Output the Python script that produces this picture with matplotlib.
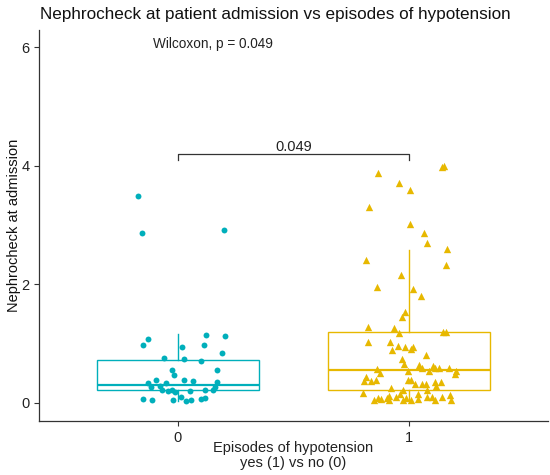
import matplotlib
matplotlib.use("Agg")
import matplotlib.pyplot as plt
import numpy as np

plt.rcParams['font.family'] = ['Liberation Sans', 'DejaVu Sans']

categories = ["0", "1"]
colors = ["#00AFBB", "#E7B800"]

# Group 0 jittered points (x offset from category, value)
g0_jit = [-0.173, -0.154, 0.199, -0.130, 0.121, 0.202, -0.150, 0.113, 0.019, 0.190,
          -0.059, 0.027, 0.101, -0.023, 0.169, -0.017, -0.095, 0.027, 0.065, -0.130,
          -0.052, 0.170, -0.116, -0.077, -0.069, -0.043, -0.026, -0.012, 0.052, 0.118,
          0.150, 0.159, -0.150, -0.110, -0.019, 0.013, 0.035, 0.058, 0.101, 0.118]
g0_val = [3.48, 2.86, 2.92, 1.08, 1.15, 1.13, 0.97, 0.97, 0.94, 0.84,
          0.76, 0.73, 0.70, 0.55, 0.55, 0.46, 0.38, 0.39, 0.36, 0.33,
          0.33, 0.35, 0.26, 0.28, 0.22, 0.19, 0.21, 0.18, 0.20, 0.21,
          0.21, 0.27, 0.06, 0.04, 0.04, 0.09, 0.03, 0.05, 0.06, 0.07]

g1_jit = [0.140, 0.150, -0.134, -0.043, 0.003, -0.175, 0.003, 0.063, 0.076, 0.162,
          -0.186, 0.159, -0.035, -0.140, 0.016, 0.050, -0.020, -0.029, -0.177, -0.065,
          -0.045, 0.147, 0.157, -0.177, -0.084, -0.049, -0.017, 0.007, 0.017, -0.075,
          0.072, -0.030, -0.023, 0.042, 0.055, 0.103, 0.110, 0.128, 0.172, -0.137,
          -0.004, 0.084, 0.202, 0.196, -0.186, -0.126, -0.195, -0.165, -0.142, -0.007,
          0.009, 0.027, 0.056, 0.072, 0.110, 0.136, 0.117, 0.075, -0.077, -0.025,
          -0.199, -0.038, -0.088, 0.038, 0.177, 0.140, -0.153, -0.134, -0.120, -0.098,
          -0.088, -0.055, -0.026, -0.013, 0.009, 0.039, 0.079, 0.100, 0.111, 0.181]
g1_val = [3.98, 3.99, 3.88, 3.71, 3.59, 3.31, 3.02, 2.86, 2.69, 2.59,
          2.40, 2.32, 2.15, 1.95, 1.92, 1.80, 1.53, 1.44, 1.28, 1.26,
          1.18, 1.20, 1.20, 1.02, 1.02, 0.96, 0.94, 0.91, 0.94, 0.88,
          0.80, 0.73, 0.65, 0.63, 0.58, 0.62, 0.59, 0.59, 0.59, 0.57,
          0.53, 0.53, 0.53, 0.49, 0.44, 0.50, 0.36, 0.36, 0.39, 0.38,
          0.39, 0.32, 0.31, 0.32, 0.35, 0.35, 0.28, 0.22, 0.24, 0.22,
          0.17, 0.14, 0.12, 0.14, 0.13, 0.10, 0.05, 0.07, 0.06, 0.07,
          0.05, 0.10, 0.05, 0.07, 0.05, 0.06, 0.09, 0.10, 0.05, 0.05]

# Box statistics
box_q1 = [0.21, 0.22]
box_med = [0.30, 0.55]
box_q3 = [0.72, 1.19]
box_lo = [0.03, 0.03]
box_hi = [1.16, 2.58]

title = "Nephrocheck at patient admission vs episodes of hypotension"
xlabel = "Episodes of hypotension\nyes (1) vs no (0)"
ylabel = "Nephrocheck at admission"
yticks = [0, 2, 4, 6]
test_label = "Wilcoxon, p = 0.049"
pair_label = "0.049"

fig = plt.figure(figsize=(5.5, 4.75), dpi=100)
ax = fig.add_axes([0.0709, 0.1137, 0.9255, 0.8231])

for i in range(2):
    st = dict(med=box_med[i], q1=box_q1[i], q3=box_q3[i],
              whislo=box_lo[i], whishi=box_hi[i], fliers=[])
    ax.bxp([st], positions=[i], widths=0.7, showfliers=False, showcaps=False,
           patch_artist=True,
           boxprops=dict(facecolor="white", edgecolor=colors[i], linewidth=1.0),
           whiskerprops=dict(color=colors[i], linewidth=1.0),
           medianprops=dict(color=colors[i], linewidth=1.6))

ax.scatter(np.array(g0_jit) + 0, g0_val, s=18, color=colors[0], marker="o",
           linewidths=0, zorder=3)
ax.scatter(np.array(g1_jit) + 1, g1_val, s=28, color=colors[1], marker="^",
           linewidths=0, zorder=3)

# significance bracket
yb, yt = 4.10, 4.19
ax.plot([0, 0, 1, 1], [yb, yt, yt, yb], color="#333333", lw=0.9)
ax.text(0.5, yt + 0.01, pair_label, ha="center", va="bottom", fontsize=10.5, color="#222222")
ax.text(-0.107, 6.06, test_label, ha="left", va="center", fontsize=9.8, color="#222222")

ax.set_xlim(-0.6, 1.6)
ax.set_ylim(-0.31, 6.29)
ax.set_xticks([0, 1])
ax.set_xticklabels(categories)
ax.set_yticks(yticks)
ax.tick_params(axis="both", labelsize=10.5, colors="#333333", length=3.5, width=0.8,
               labelcolor="#222222")
for s in ["top", "right"]:
    ax.spines[s].set_visible(False)
for s in ["left", "bottom"]:
    ax.spines[s].set_color("#333333")
    ax.spines[s].set_linewidth(0.9)

ax.set_title(title, fontsize=12.3, color="#111111", pad=8, x=0.464)
ax.set_xlabel(xlabel, fontsize=10.5, color="#222222", labelpad=-2.5, linespacing=1.05)
ax.set_ylabel(ylabel, fontsize=10.5, color="#111111", labelpad=0)

fig.savefig("out.png", dpi=100)
